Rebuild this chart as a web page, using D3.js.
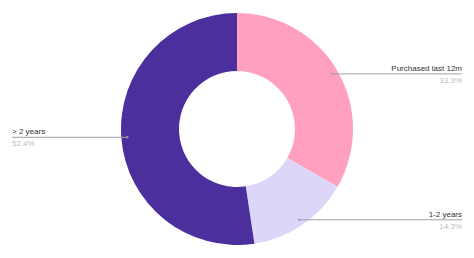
<!DOCTYPE html>
<html>
<head>
<meta charset="utf-8">
<script src="https://cdn.jsdelivr.net/npm/d3@7"></script>
<style>
  body { margin: 0; background: #fff; }
  svg { display: block; font-family: "Liberation Sans", Arial, sans-serif; }
</style>
</head>
<body>
<div id="chart"></div>
<script>
// slices in clockwise order from 12 o'clock
const labels = ["Purchased last 12m", "1-2 years", "> 2 years"];
const values = [33.3, 14.3, 52.4];
const colors = ["#ffa0bf", "#ddd6f8", "#4b2f9d"];

const width = 474, height = 258;
const cx = 237, cy = 129;
const outerR = 116, innerR = 58, labelR = 110;

const svg = d3.select("#chart").append("svg")
    .attr("width", width)
    .attr("height", height);

const g = svg.append("g")
    .attr("transform", "translate(" + cx + "," + cy + ")");

const pie = d3.pie().sort(null).value(d => d.value);
const data = labels.map((l, i) => ({label: l, value: values[i], color: colors[i]}));
const arcs = pie(data);

const arc = d3.arc().innerRadius(innerR).outerRadius(outerR);

g.selectAll("path.slice")
    .data(arcs)
    .enter().append("path")
    .attr("class", "slice")
    .attr("d", arc)
    .attr("fill", d => d.data.color);

// leader lines + labels
arcs.forEach(a => {
    let mid = (a.startAngle + a.endAngle) / 2;
    let px = Math.sin(mid) * labelR;
    let py = -Math.cos(mid) * labelR;
    let right = px > 0;
    let endX = right ? (462 - cx) : (12 - cx);

    g.append("line")
        .attr("x1", px).attr("y1", py)
        .attr("x2", endX).attr("y2", py)
        .attr("stroke", "#a0a0a0")
        .attr("stroke-width", 1);

    g.append("circle")
        .attr("cx", px).attr("cy", py)
        .attr("r", 1.2)
        .attr("fill", "#a0a0a0");

    g.append("text")
        .attr("x", endX)
        .attr("y", py - 3)
        .attr("text-anchor", right ? "end" : "start")
        .attr("font-size", 8)
        .attr("fill", "#333")
        .text(a.data.label);

    g.append("text")
        .attr("x", endX)
        .attr("y", py + 9)
        .attr("text-anchor", right ? "end" : "start")
        .attr("font-size", 8)
        .attr("fill", "#bdbdbd")
        .text(a.data.value.toFixed(1) + "%");
});
</script>
</body>
</html>
